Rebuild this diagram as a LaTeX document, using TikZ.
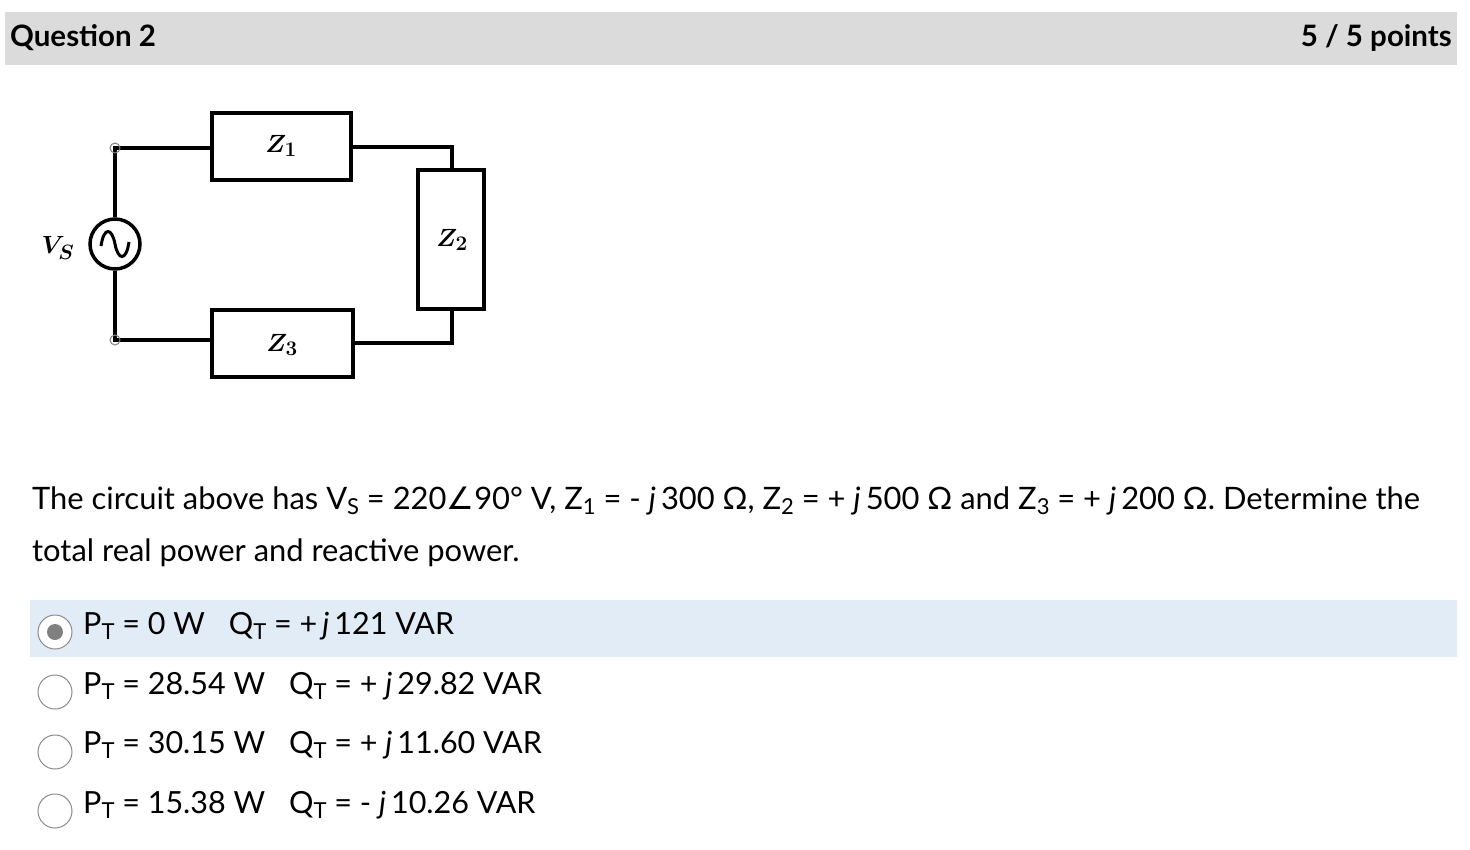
\documentclass[tikz,border=0pt]{standalone}
\usepackage{fontspec}
\setmainfont{Lato}
\newfontfamily\djv{DejaVu Sans}
\definecolor{hl}{RGB}{226,236,247}
\newcommand{\sbs}[1]{\raisebox{-0.35ex}{\fontsize{22}{22}\selectfont #1}}
\newcommand{\jj}{\textit{j}\,}
\begin{document}
\begin{tikzpicture}[x=1pt,y=-1pt,
  wire/.style={line width=3.5pt},
  imp/.style={draw,line width=3.5pt},
  txt/.style={anchor=base west,inner sep=0,font=\fontsize{30.5}{36}\selectfont},
  ctxt/.style={inner sep=0,font=\fontsize{30}{30}\selectfont\boldmath},
  radio/.style={draw=black!45,line width=1pt,fill=white}]
\useasboundingbox (0,0) rectangle (1470,849);
\fill[black!14] (5,12) rectangle (1457,65);
\node[txt,font=\fontsize{29.5}{34}\selectfont\bfseries] (q) at (10,46) {Question 2};
\node[txt,anchor=base east,font=\fontsize{29.5}{34}\selectfont\bfseries] (pts) at (1452,46) {5 / 5 points};
% circuit
\coordinate (tl) at (115,148);
\coordinate (bl) at (115,340);
\coordinate (tr) at (452,147);
\coordinate (br) at (452,343);
\draw[imp] (212,113) rectangle (351,180);
\node[ctxt] (z1) at (281,146) {$Z_1$};
\draw[imp] (418,170) rectangle (484,309);
\node[ctxt] (z2) at (452,240) {$Z_2$};
\draw[imp] (212,310) rectangle (353,377);
\node[ctxt] (z3) at (282,345) {$Z_3$};
\node[draw,circle,line width=3.5pt,minimum size=50pt,inner sep=0] (src) at (115,244) {};
\draw[line width=3pt] (101,246) .. controls (104,226) and (112,228) .. (115,244) .. controls (118,260) and (126,262) .. (129,242);
\node[ctxt] (vs) at (58,248) {$V_S$};
\draw[wire] (src.north) -- (tl) -- (212,148);
\draw[wire] (src.south) -- (bl) -- (212,340);
\draw[wire] (351,147) -- (tr) -- (452,170);
\draw[wire] (353,343) -- (br) -- (452,309);
\draw[black!50,line width=1pt] (tl) circle (5) (bl) circle (5);
% question
\node[txt,font=\fontsize{30.9}{36}\selectfont] (l1) at (32,509) {The circuit above has V\sbs{S} = 220{\djv ∠}90° V, Z\sbs{1} = - \jj300 Ω, Z\sbs{2} = + \jj500 Ω and Z\sbs{3} = + \jj200 Ω. Determine the};
\node[txt,font=\fontsize{30.9}{36}\selectfont] (l2) at (32,561) {total real power and reactive power.};
\fill[hl] (30,600) rectangle (1457,657);
\node[radio,circle,minimum size=34pt,inner sep=0] (r1) at (55,632) {};
\fill[black!50] (r1) circle (8);
\node[radio,circle,minimum size=34pt,inner sep=0] (r2) at (55,692) {};
\node[radio,circle,minimum size=34pt,inner sep=0] (r3) at (55,752) {};
\node[radio,circle,minimum size=34pt,inner sep=0] (r4) at (55,811) {};
\node[txt] (a1) at (83,634) {P\sbs{T} = 0 W\hspace{24pt}Q\sbs{T} = +\,\jj121 VAR};
\node[txt] (a2) at (83,694) {P\sbs{T} = 28.54 W\hspace{24pt}Q\sbs{T} = + \jj29.82 VAR};
\node[txt] (a3) at (83,753) {P\sbs{T} = 30.15 W\hspace{24pt}Q\sbs{T} = + \jj11.60 VAR};
\node[txt] (a4) at (83,813) {P\sbs{T} = 15.38 W\hspace{24pt}Q\sbs{T} = - \jj10.26 VAR};
\end{tikzpicture}
\end{document}
